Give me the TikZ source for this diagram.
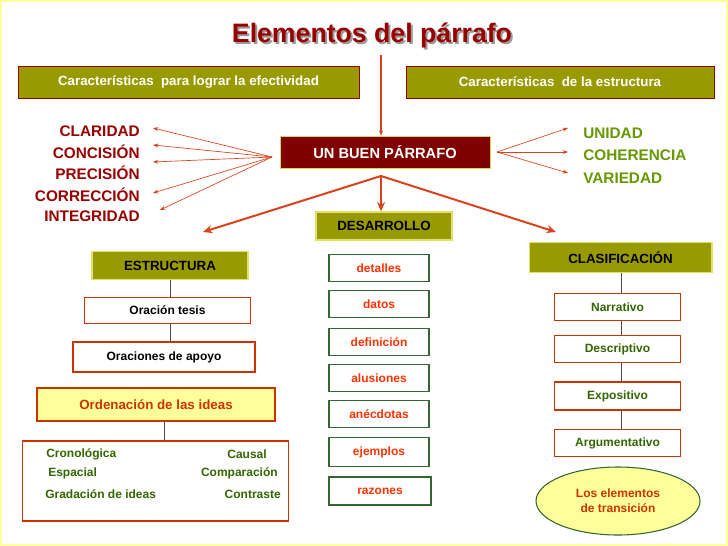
\documentclass[tikz,border=0pt]{standalone}
\usepackage{fontspec}
\setmainfont{Liberation Sans}
\usetikzlibrary{shapes.geometric,arrows.meta}
\definecolor{olive}{HTML}{999900}
\definecolor{dred}{HTML}{800000}
\definecolor{lred}{HTML}{990000}
\definecolor{arr}{HTML}{D9431C}
\definecolor{lgreen}{HTML}{669900}
\definecolor{dgreen}{HTML}{336600}
\definecolor{lyel}{HTML}{FFFF99}
\definecolor{orng}{HTML}{FF3300}
\definecolor{brn}{HTML}{CC3300}
\definecolor{gbord}{HTML}{336633}
\tikzset{
 hdr/.style={draw=lred,fill=olive,text=white,font=\bfseries\fontsize{10}{12}\selectfont,minimum height=24pt,inner sep=0pt},
 obox/.style={draw=lyel!70!olive,line width=1pt,fill=olive,text=black,font=\bfseries\fontsize{10}{12}\selectfont,minimum height=21pt,inner sep=0pt},
 wbox/.style={draw=brn,line width=0.8pt,fill=white,font=\bfseries\fontsize{9}{11}\selectfont,minimum height=20pt,inner sep=0pt},
 mbox/.style={draw=gbord,line width=0.8pt,fill=white,text=orng,font=\bfseries\fontsize{9}{11}\selectfont,minimum width=75pt,minimum height=20pt,inner sep=0pt},
 cbox/.style={draw=brn,line width=0.8pt,fill=white,text=dgreen,font=\bfseries\fontsize{9}{11}\selectfont,minimum width=94pt,minimum height=20pt,inner sep=0pt},
 ltxt/.style={text=lred,font=\bfseries\fontsize{11.5}{13}\selectfont,anchor=east,inner sep=0pt},
 rtxt/.style={text=lgreen,font=\bfseries\fontsize{11.5}{13}\selectfont,anchor=west,inner sep=0pt},
 gtxt/.style={text=dgreen,font=\bfseries\fontsize{9}{11}\selectfont,inner sep=0pt},
 thin/.style={draw=arr,line width=0.5pt,-{Stealth[length=4pt,width=3pt]}},
 thick/.style={draw=arr,line width=1.5pt,-{Stealth[length=7pt,width=6pt]}},
 conn/.style={draw=black!70,line width=0.6pt}
}
\begin{document}
\begin{tikzpicture}[x=0.75pt,y=-0.75pt]
\useasboundingbox[fill=white] (0,0) rectangle (728,546);
\draw[lyel,line width=1.5pt] (1,1) rectangle (727,545);
% title
\node[text=black!40,font=\bfseries\fontsize{20}{24}\selectfont] at (374,37) {Elementos del párrafo};
\node (title) [text=lred,font=\bfseries\fontsize{20}{24}\selectfont] at (372,35) {Elementos del párrafo};
\node (h1) [hdr,minimum width=255.75pt] at (188.5,82) {Características\ \ para lograr la efectividad};
\node (h2) [hdr,minimum width=231pt] at (560,82) {Características\ \ de la estructura};
\node (bp) [draw=lyel!60!olive,fill=dred,text=white,font=\bfseries\fontsize{11}{13}\selectfont,minimum width=157.5pt,minimum height=24pt,inner sep=0pt] at (385,152) {UN BUEN PÁRRAFO};
\coordinate (t0) at (381,55);
\draw[thin,line width=1.2pt] (t0) -- (bp.north -| t0) ;
% left list
\node (l1) [ltxt] at (140,131) {CLARIDAD};
\node (l2) [ltxt] at (140,152) {CONCISIÓN};
\node (l3) [ltxt] at (140,173) {PRECISIÓN};
\node (l4) [ltxt] at (140,195) {CORRECCIÓN};
\node (l5) [ltxt] at (140,216) {INTEGRIDAD};
\coordinate (lf) at (272,157);
\coordinate (la1) at (153,128); \coordinate (la2) at (153,145); \coordinate (la3) at (153,162);
\coordinate (la4) at (153,193); \coordinate (la5) at (160,210);
\foreach \i in {1,...,5} \draw[thin] (lf) -- (la\i);
% right list
\node (r1) [rtxt] at (583,133) {UNIDAD};
\node (r2) [rtxt] at (583,155) {COHERENCIA};
\node (r3) [rtxt] at (583,178) {VARIEDAD};
\coordinate (rf) at (497,152);
\coordinate (ra1) at (568,128); \coordinate (ra2) at (568,152); \coordinate (ra3) at (568,173);
\foreach \i in {1,...,3} \draw[thin] (rf) -- (ra\i);
% branches
\coordinate (bf) at (381,176);
\coordinate (ea) at (203,232); \coordinate (ca) at (556,232);
\node (des) [obox,minimum width=102pt] at (384,226) {DESARROLLO};
\draw[thick] (bf) -- (des.north -| bf);
\draw[thick] (bf) -- (ea);
\draw[thick] (bf) -- (ca);
% estructura
\node (est) [obox,minimum width=117pt] at (170,265.5) {ESTRUCTURA};
\node (ot) [wbox,minimum width=124pt] at (167.5,310.5) {Oración tesis};
\node (oa) [wbox,minimum width=136.5pt,minimum height=22.5pt] at (164,357) {Oraciones de apoyo};
\node (oi) [draw=brn,line width=0.8pt,fill=lyel,text=brn,font=\bfseries\fontsize{10}{12}\selectfont,minimum width=178.5pt,minimum height=24.75pt,inner sep=0pt] at (156,404.5) {Ordenación de las ideas};
\node (big) [draw=brn,line width=0.8pt,minimum width=200pt,minimum height=60pt,inner sep=0pt] at (155.5,481) {};
\draw[conn] (est.south -| 170,0) -- (ot.north -| 170,0);
\draw[conn] (ot.south -| 170,0) -- (oa.north -| 170,0);
\draw[conn] (oi.south -| 164,0) -- (big.north -| 164,0);
\node[gtxt,anchor=west] at (46,454) {Cronológica};
\node[gtxt,anchor=west] at (48,473) {Espacial};
\node[gtxt,anchor=west] at (45,494) {Gradación de ideas};
\node[gtxt,anchor=east] at (267,454) {Causal};
\node[gtxt,anchor=east] at (278,473) {Comparación};
\node[gtxt,anchor=east] at (281,494) {Contraste};
% desarrollo items
\node (m1) [mbox] at (379,268) {detalles};
\node (m2) [mbox] at (379,304) {datos};
\node (m3) [mbox] at (379,342) {definición};
\node (m4) [mbox] at (379,378) {alusiones};
\node (m5) [mbox] at (379,414) {anécdotas};
\node (m6) [mbox,minimum height=22pt] at (379,452) {ejemplos};
\node (m7) [mbox,minimum width=76.5pt,minimum height=21pt] at (380,491) {razones};
% clasificacion
\node (cl) [obox,minimum width=137pt,minimum height=22.5pt] at (620.5,257.5) {CLASIFICACIÓN};
\node (c1) [cbox] at (617.5,307) {Narrativo};
\node (c2) [cbox] at (617.5,349) {Descriptivo};
\node (c3) [cbox,minimum height=21pt] at (617.5,396) {Expositivo};
\node (c4) [cbox] at (617.5,443) {Argumentativo};
\node (el) [ellipse,draw=gbord,line width=0.8pt,fill=lyel,text=brn,font=\bfseries\fontsize{9}{11}\selectfont,align=center,minimum width=123pt,minimum height=51pt,inner sep=0pt] at (618,501) {Los elementos\\de transición};
\draw[conn] (cl.south -| 621,0) -- (c1.north -| 621,0);
\draw[conn] (c1.south -| 621,0) -- (c2.north -| 621,0);
\draw[conn] (c2.south -| 621,0) -- (c3.north -| 621,0);
\draw[conn] (c3.south -| 621,0) -- (c4.north -| 621,0);
\end{tikzpicture}
\end{document}
